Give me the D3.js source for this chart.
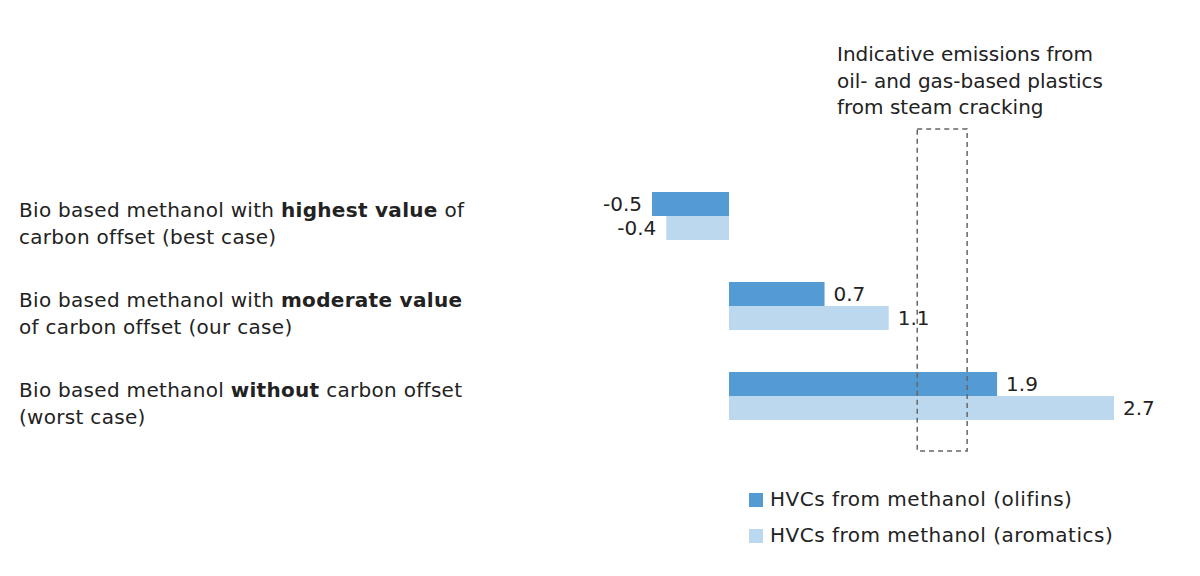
<!DOCTYPE html>
<html>
<head>
<meta charset="utf-8">
<script src="https://cdn.jsdelivr.net/npm/d3@7"></script>
<style>
  body { margin: 0; background: #fff; }
  svg { font-family: "DejaVu Sans", sans-serif; }
</style>
</head>
<body>
<div id="chart"></div>
<script>
// Data (labels show one decimal)
const categories = [
    ["Bio based methanol with **highest value** of", "carbon offset (best case)"],
    ["Bio based methanol with **moderate value**", "of carbon offset (our case)"],
    ["Bio based methanol **without** carbon offset", "(worst case)"]
];
const seriesNames = ["HVCs from methanol (olifins)", "HVCs from methanol (aromatics)"];
const olefinValues = [-0.54, 0.67, 1.88];
const aromaticValues = [-0.44, 1.12, 2.7];
const steamCrackingRange = [1.32, 1.67];
const annotationLines = ["Indicative emissions from", "oil- and gas-based plastics", "from steam cracking"];
const colors = ["#559bd3", "#bcd8ee"];

const width = 1200;
const height = 576;
const fontSize = "20px";
const spacing = "0.3px";
const textColor = "#222";

let svg = d3.select("#chart")
    .append("svg")
    .attr("width", width)
    .attr("height", height);

let x = d3.scaleLinear()
    .domain([0, 1])
    .range([729, 871.6]);

let catIds = categories.map((d, i) => i);
let y = d3.scaleBand()
    .domain(catIds)
    .range([192, 420])
    .paddingInner(42 / 90)
    .paddingOuter(0);

let ySub = d3.scaleBand()
    .domain([0, 1])
    .range([0, y.bandwidth()]);

let rows = catIds.map((i) => ({
    id: i,
    values: [olefinValues[i], aromaticValues[i]]
}));

// hyphen instead of the unicode minus d3.format gives
let fmt = (v) => d3.format(".1f")(v).replace("\u2212", "-");

// Category labels, with bold parts marked as **...**
let labels = svg.append("g")
    .selectAll("text")
    .data(rows)
    .join("text")
    .attr("x", 19)
    .attr("y", (d) => y(d.id) + 25)
    .style("font-size", fontSize)
    .style("letter-spacing", spacing)
    .style("fill", textColor);

labels.each(function (d) {
    let t = d3.select(this);
    categories[d.id].forEach((line, li) => {
        let parts = line.split("**");
        parts.forEach((p, pi) => {
            if (p === "") return;
            let ts = t.append("tspan").text(p);
            if (pi % 2 === 1) ts.style("font-weight", "bold");
            if (pi === 0 || (pi === 1 && parts[0] === "")) {
                ts.attr("x", 19).attr("dy", li === 0 ? 0 : 27);
            }
        });
    });
});

// Bars
let groups = svg.append("g")
    .selectAll("g")
    .data(rows)
    .join("g")
    .attr("transform", (d) => `translate(0, ${y(d.id)})`);

groups.selectAll("rect")
    .data((d) => d.values.map((v, s) => ({ v: v, s: s })))
    .join("rect")
    .attr("x", (d) => x(Math.min(0, d.v)))
    .attr("y", (d) => ySub(d.s))
    .attr("width", (d) => Math.abs(x(d.v) - x(0)))
    .attr("height", ySub.bandwidth())
    .style("fill", (d) => colors[d.s]);

groups.selectAll("text")
    .data((d) => d.values.map((v, s) => ({ v: v, s: s })))
    .join("text")
    .attr("x", (d) => (d.v < 0 ? x(d.v) - 10 : x(d.v) + 9))
    .attr("y", (d) => ySub(d.s) + ySub.bandwidth() / 2 + 7)
    .attr("text-anchor", (d) => (d.v < 0 ? "end" : "start"))
    .style("font-size", fontSize)
    .style("fill", textColor)
    .text((d) => fmt(d.v));

// Steam cracking reference box
svg.append("rect")
    .attr("x", x(steamCrackingRange[0]))
    .attr("y", 129)
    .attr("width", x(steamCrackingRange[1]) - x(steamCrackingRange[0]))
    .attr("height", 322)
    .style("fill", "none")
    .style("stroke", "#666")
    .style("stroke-width", 1.5)
    .style("stroke-dasharray", "5,4");

svg.append("g")
    .selectAll("text")
    .data(annotationLines)
    .join("text")
    .attr("x", 837)
    .attr("y", (d, i) => 61 + i * 26.5)
    .style("font-size", fontSize)
    .style("fill", textColor)
    .text((d) => d);

// Legend
let legend = svg.append("g")
    .selectAll("g")
    .data(seriesNames)
    .join("g")
    .attr("transform", (d, i) => `translate(749, ${493 + i * 36})`);

legend.append("rect")
    .attr("width", 14)
    .attr("height", 14)
    .style("fill", (d, i) => colors[i]);

legend.append("text")
    .attr("x", 21)
    .attr("y", 13)
    .style("font-size", fontSize)
    .style("letter-spacing", "0.5px")
    .style("fill", textColor)
    .text((d) => d);
</script>
</body>
</html>
